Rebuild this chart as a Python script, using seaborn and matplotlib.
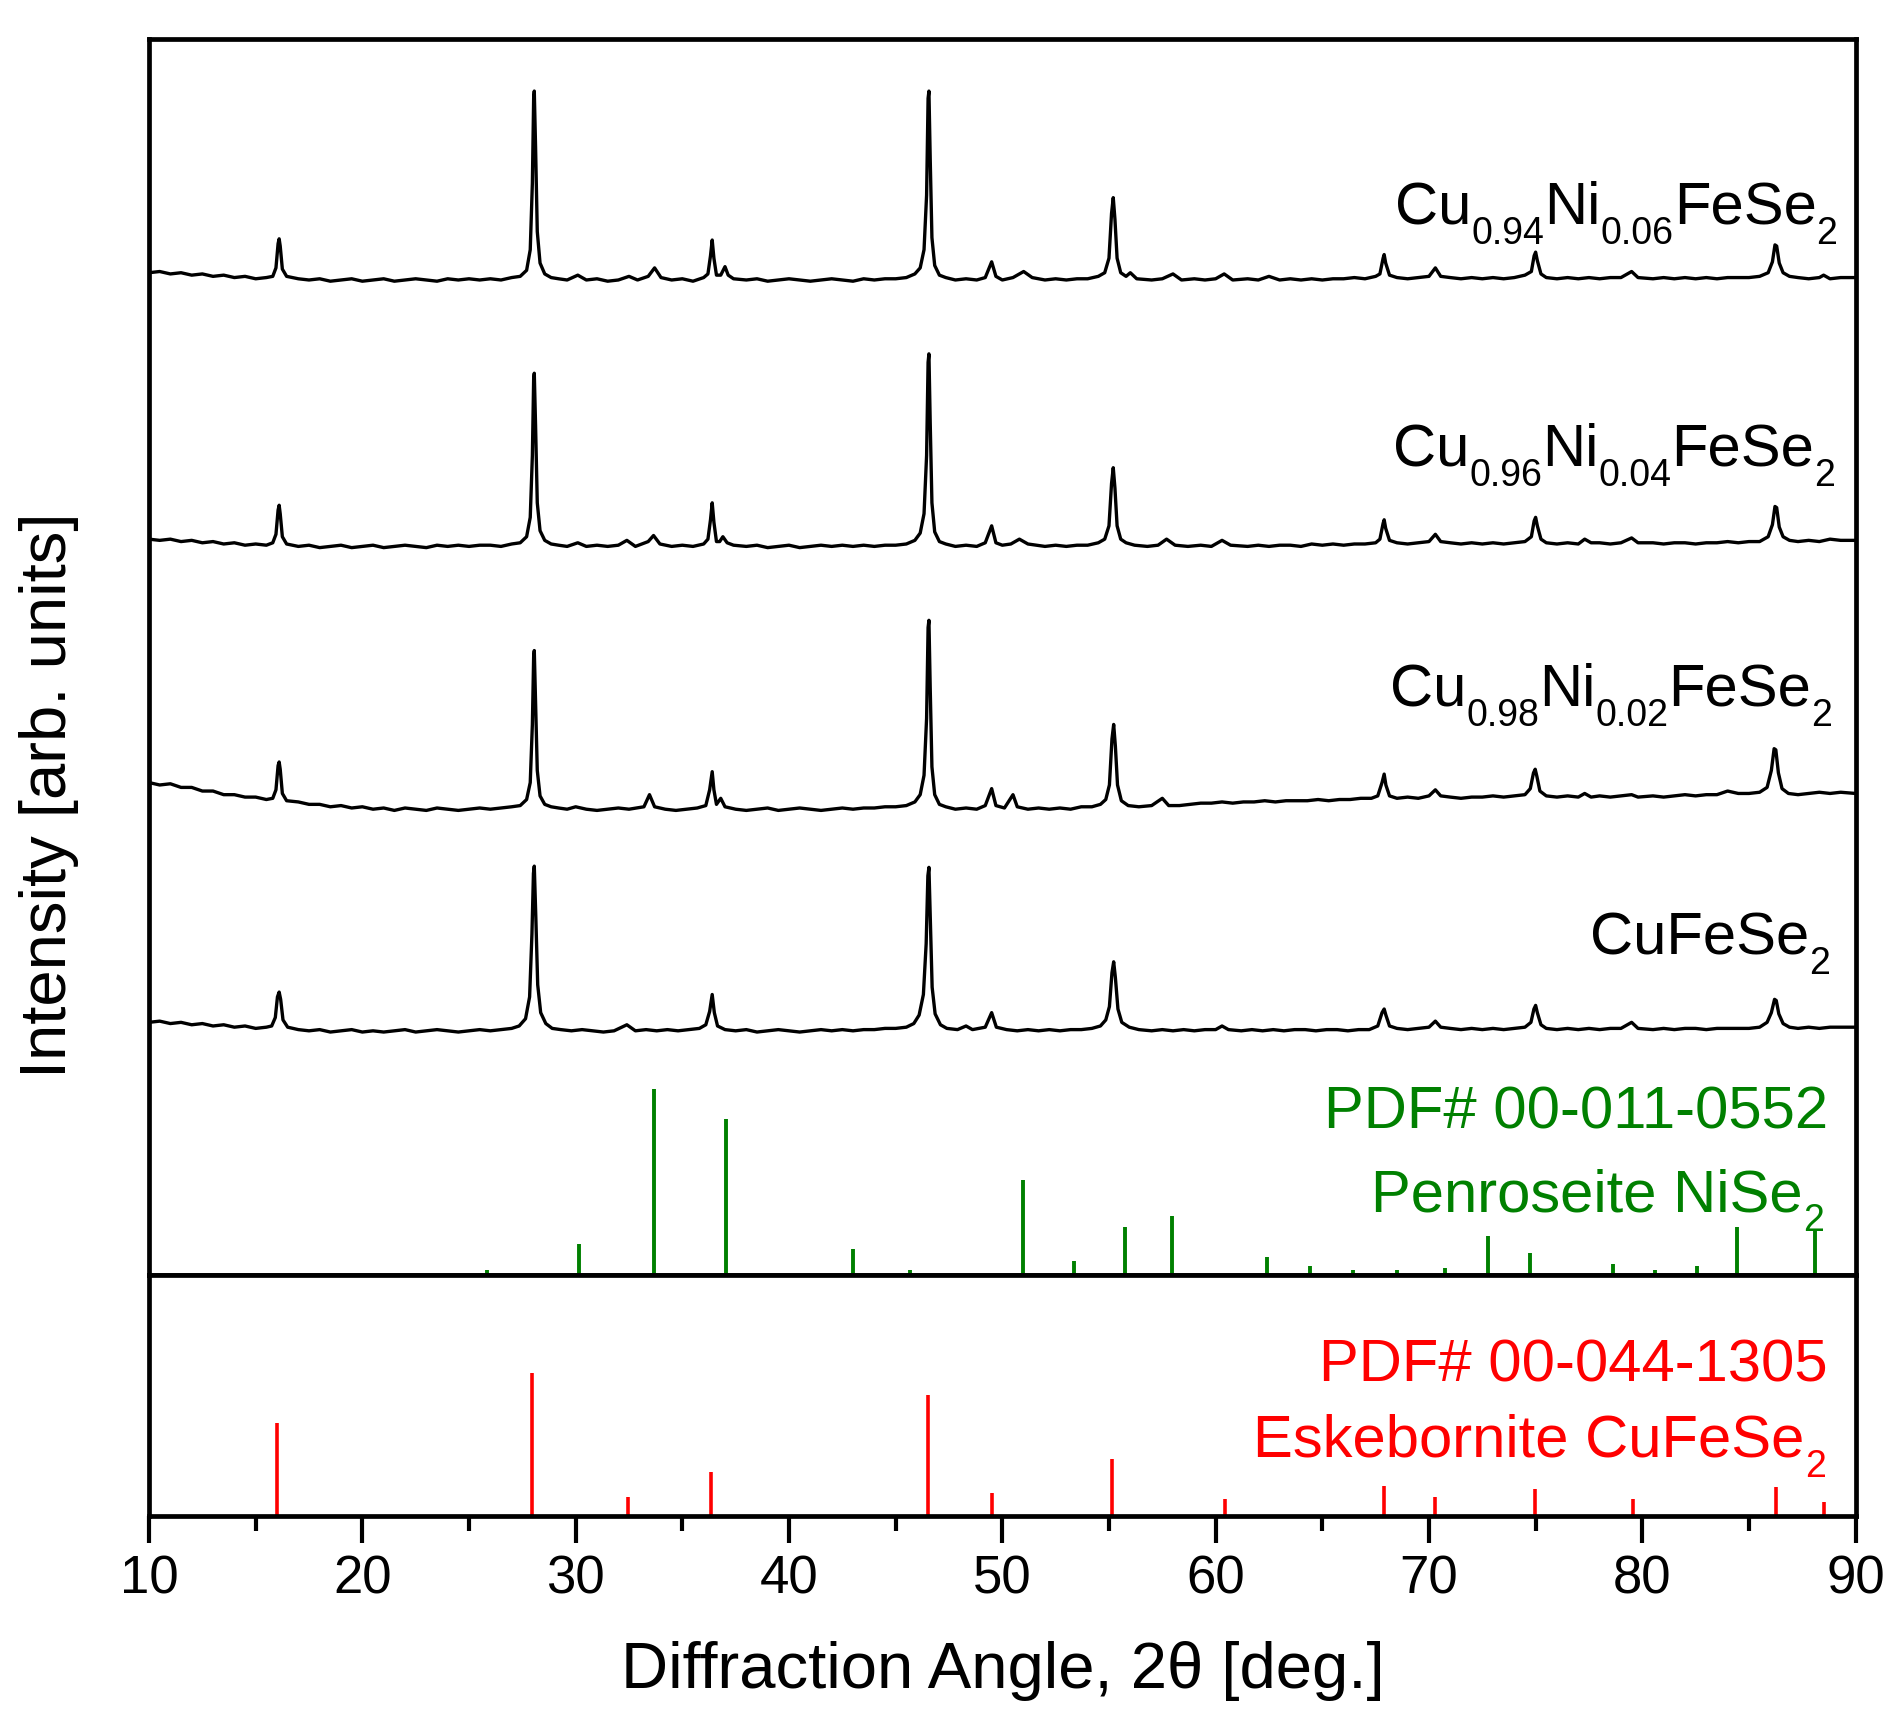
import numpy as np
import pandas as pd
import matplotlib
matplotlib.use("Agg")
import matplotlib.pyplot as plt
from matplotlib.ticker import MultipleLocator
from matplotlib.transforms import offset_copy
import seaborn as sns

# ---------------- measured patterns (2theta [deg], intensity above own baseline) ----------------
x006 = [(10.0, 6), (10.5, 7), (11.0, 5), (11.5, 6), (12.0, 4), (12.5, 5), (13.0, 3), (13.5, 4), (14.0, 2),
        (14.5, 3), (15.0, 1), (15.5, 2), (15.8, 3), (15.95, 10), (16.05, 30), (16.1, 34), (16.15, 28),
        (16.25, 9), (16.45, 3), (17.0, 1), (17.5, 0), (18.0, 1), (18.5, -1), (19.0, 0), (19.5, 1), (20.0, -1),
        (20.5, 0), (21.0, 1), (21.5, -1), (22.0, 0), (22.5, 1), (23.0, 0), (23.5, -1), (24.0, 1), (24.5, 0),
        (25.0, 1), (25.5, 0), (26.0, 1), (26.5, 0), (27.0, 2), (27.4, 3), (27.7, 8), (27.87, 25), (27.97, 80),
        (28.03, 150), (28.06, 156), (28.12, 110), (28.2, 40), (28.33, 14), (28.55, 5), (28.85, 2), (29.2, 1),
        (29.6, 0), (30.1, 4), (30.5, 0), (31.0, 1), (31.5, -1), (32.0, 0), (32.5, 3), (32.9, 0), (33.4, 3),
        (33.7, 10), (34.0, 2), (34.5, 0), (35.0, 1), (35.5, -1), (36.0, 2), (36.2, 5), (36.32, 20), (36.4, 33),
        (36.48, 18), (36.6, 4), (36.8, 4), (37.0, 11), (37.15, 4), (37.4, 1), (38.0, 0), (38.5, 1), (39.0, -1),
        (39.5, 0), (40.0, 1), (40.5, 0), (41.0, -1), (41.5, 0), (42.0, 1), (42.5, 0), (43.0, -1), (43.5, 1),
        (44.0, 0), (44.5, 1), (45.0, 1), (45.5, 2), (45.9, 5), (46.15, 10), (46.33, 25), (46.45, 70),
        (46.52, 150), (46.56, 156), (46.62, 100), (46.7, 35), (46.83, 12), (47.05, 4), (47.35, 2), (47.8, 0),
        (48.3, 1), (48.8, 0), (49.2, 2), (49.5, 15), (49.7, 3), (50.0, 0), (50.5, 2), (51.0, 7), (51.4, 2),
        (52.0, 0), (52.5, 1), (53.0, 0), (53.5, 1), (54.0, 1), (54.5, 3), (54.8, 6), (55.0, 18), (55.12, 55),
        (55.2, 68), (55.28, 50), (55.38, 18), (55.55, 6), (55.8, 3), (56.0, 6), (56.3, 1), (57.0, 0), (57.5, 1),
        (58.0, 5), (58.4, 0), (59.0, 1), (59.5, 0), (60.0, 1), (60.4, 5), (60.8, 0), (61.5, 1), (62.0, 0),
        (62.5, 3), (63.0, 0), (63.5, 1), (64.0, 0), (64.5, 1), (65.0, 0), (65.5, 1), (66.0, 1), (66.5, 2),
        (67.0, 1), (67.5, 3), (67.7, 5), (67.85, 18), (67.9, 21), (67.97, 14), (68.15, 4), (68.5, 2), (69.0, 1),
        (69.5, 2), (70.0, 3), (70.3, 10), (70.55, 3), (71.0, 2), (71.5, 1), (72.0, 2), (72.5, 1), (73.0, 2),
        (73.5, 1), (74.0, 2), (74.5, 4), (74.8, 7), (74.93, 20), (75.0, 23), (75.08, 16), (75.25, 5), (75.5, 2),
        (76.0, 1), (76.5, 2), (77.0, 1), (77.5, 2), (78.0, 1), (78.5, 2), (79.0, 2), (79.5, 7), (79.8, 2),
        (80.5, 1), (81.0, 2), (81.5, 1), (82.0, 2), (82.5, 1), (83.0, 2), (83.5, 1), (84.0, 2), (84.5, 2),
        (85.0, 2), (85.5, 3), (85.9, 6), (86.1, 15), (86.22, 29), (86.3, 28), (86.42, 14), (86.6, 6), (86.9, 3),
        (87.3, 2), (87.8, 1), (88.3, 2), (88.5, 4), (88.8, 1), (89.3, 2), (90.0, 2)]

x004 = [(10.0, 6), (10.5, 5), (11.0, 6), (11.5, 4), (12.0, 5), (12.5, 3), (13.0, 4), (13.5, 2), (14.0, 3),
        (14.5, 1), (15.0, 2), (15.5, 1), (15.8, 3), (15.95, 10), (16.05, 30), (16.1, 34), (16.15, 27),
        (16.25, 8), (16.45, 2), (17.0, 0), (17.5, 1), (18.0, -1), (18.5, 0), (19.0, 1), (19.5, -1), (20.0, 0),
        (20.5, 1), (21.0, -1), (21.5, 0), (22.0, 1), (22.5, 0), (23.0, -1), (23.5, 1), (24.0, 0), (24.5, 1),
        (25.0, 0), (25.5, 1), (26.0, 1), (26.5, 0), (27.0, 2), (27.4, 3), (27.7, 8), (27.87, 24), (27.97, 75),
        (28.03, 138), (28.06, 143), (28.12, 100), (28.2, 36), (28.33, 13), (28.55, 5), (28.85, 2), (29.2, 1),
        (29.6, 0), (30.1, 3), (30.5, 0), (31.0, 1), (31.5, 0), (32.0, 1), (32.4, 5), (32.8, 0), (33.4, 4),
        (33.65, 9), (33.95, 2), (34.5, 0), (35.0, 1), (35.5, 0), (36.0, 2), (36.2, 6), (36.32, 22), (36.4, 36),
        (36.48, 20), (36.6, 4), (36.75, 4), (36.9, 8), (37.1, 3), (37.4, 1), (38.0, 0), (38.5, 1), (39.0, -1),
        (39.5, 0), (40.0, 1), (40.5, -1), (41.0, 0), (41.5, 1), (42.0, 0), (42.5, 1), (43.0, 0), (43.5, 1),
        (44.0, 0), (44.5, 1), (45.0, 1), (45.5, 2), (45.9, 5), (46.15, 11), (46.33, 27), (46.45, 75),
        (46.52, 152), (46.56, 159), (46.62, 102), (46.7, 36), (46.83, 12), (47.05, 4), (47.35, 2), (47.8, 0),
        (48.3, 1), (48.8, 0), (49.2, 3), (49.5, 17), (49.7, 3), (50.0, 1), (50.4, 2), (50.8, 6), (51.2, 2),
        (52.0, 0), (52.5, 1), (53.0, 0), (53.5, 1), (54.0, 1), (54.5, 3), (54.8, 6), (55.0, 17), (55.12, 52),
        (55.2, 65), (55.28, 48), (55.38, 17), (55.55, 6), (55.8, 3), (56.2, 1), (56.8, 0), (57.3, 1), (57.7, 6),
        (58.1, 1), (58.7, 0), (59.3, 1), (59.8, 0), (60.3, 5), (60.7, 1), (61.5, 0), (62.0, 1), (62.5, 0),
        (63.0, 1), (63.5, 1), (64.0, 0), (64.5, 2), (65.0, 1), (65.5, 2), (66.0, 1), (66.5, 2), (67.0, 2),
        (67.5, 3), (67.7, 6), (67.85, 19), (67.9, 22), (67.97, 15), (68.15, 5), (68.5, 3), (69.0, 2), (69.5, 3),
        (70.0, 4), (70.3, 10), (70.55, 4), (71.0, 3), (71.5, 2), (72.0, 3), (72.5, 2), (73.0, 3), (73.5, 2),
        (74.0, 3), (74.5, 4), (74.8, 8), (74.93, 21), (75.0, 24), (75.08, 17), (75.25, 6), (75.5, 3), (76.0, 2),
        (76.5, 3), (77.0, 2), (77.3, 6), (77.6, 3), (78.0, 3), (78.5, 2), (79.0, 3), (79.5, 7), (79.8, 3),
        (80.5, 3), (81.0, 2), (81.5, 3), (82.0, 3), (82.5, 2), (83.0, 3), (83.5, 3), (84.0, 4), (84.5, 3),
        (85.0, 4), (85.5, 4), (85.9, 8), (86.1, 18), (86.22, 33), (86.3, 32), (86.42, 16), (86.6, 8), (86.9, 5),
        (87.3, 4), (87.8, 5), (88.3, 4), (88.8, 6), (89.3, 5), (90.0, 5)]

x002 = [(10.0, 22), (10.5, 20), (11.0, 21), (11.5, 18), (12.0, 18), (12.5, 15), (13.0, 15), (13.5, 12),
        (14.0, 12), (14.5, 10), (15.0, 10), (15.5, 8), (15.8, 9), (15.95, 16), (16.05, 36), (16.1, 39),
        (16.15, 33), (16.25, 13), (16.45, 7), (17.0, 6), (17.5, 4), (18.0, 4), (18.5, 2), (19.0, 3), (19.5, 1),
        (20.0, 2), (20.5, 0), (21.0, 1), (21.5, -1), (22.0, 1), (22.5, 0), (23.0, -1), (23.5, 1), (24.0, 0),
        (24.5, -1), (25.0, 0), (25.5, 1), (26.0, 0), (26.5, 1), (27.0, 2), (27.4, 3), (27.7, 8), (27.87, 22),
        (27.97, 70), (28.03, 126), (28.06, 131), (28.12, 90), (28.2, 32), (28.33, 11), (28.55, 4), (28.85, 2),
        (29.2, 1), (29.6, 0), (30.0, 2), (30.5, 0), (31.0, -1), (31.5, 0), (32.0, 1), (32.5, 0), (33.2, 2),
        (33.46, 12), (33.7, 2), (34.2, 0), (34.7, -1), (35.2, 0), (35.7, 1), (36.1, 3), (36.28, 16), (36.4, 31),
        (36.48, 16), (36.6, 4), (36.8, 9), (37.0, 2), (37.5, 0), (38.0, -1), (38.5, 0), (39.0, 1), (39.5, -1),
        (40.0, 0), (40.5, 1), (41.0, 0), (41.5, -1), (42.0, 0), (42.5, 1), (43.0, 0), (43.5, 1), (44.0, 1),
        (44.5, 2), (45.0, 2), (45.5, 3), (45.9, 6), (46.15, 12), (46.33, 28), (46.45, 75), (46.52, 150),
        (46.56, 156), (46.62, 100), (46.7, 35), (46.83, 12), (47.05, 4), (47.35, 2), (47.8, 0), (48.3, 1),
        (48.8, 0), (49.2, 3), (49.5, 17), (49.7, 3), (50.1, 1), (50.5, 12), (50.7, 2), (51.2, 0), (51.7, 1),
        (52.2, 0), (52.7, 1), (53.2, 0), (53.7, 2), (54.2, 2), (54.6, 4), (54.85, 8), (55.02, 20), (55.14, 58),
        (55.22, 70), (55.3, 52), (55.4, 20), (55.58, 7), (55.9, 3), (56.4, 2), (57.0, 3), (57.5, 9), (57.8, 3),
        (58.3, 3), (58.8, 4), (59.3, 5), (59.8, 5), (60.3, 6), (60.8, 5), (61.3, 6), (61.8, 6), (62.3, 7),
        (62.8, 6), (63.3, 7), (63.8, 7), (64.3, 7), (64.8, 8), (65.3, 7), (65.8, 8), (66.3, 8), (66.8, 9),
        (67.3, 9), (67.6, 11), (67.8, 22), (67.9, 29), (67.98, 20), (68.15, 11), (68.5, 9), (69.0, 10),
        (69.5, 9), (70.0, 11), (70.3, 16), (70.55, 11), (71.0, 10), (71.5, 9), (72.0, 10), (72.5, 10),
        (73.0, 11), (73.5, 10), (74.0, 11), (74.5, 12), (74.75, 17), (74.9, 30), (74.98, 33), (75.06, 27),
        (75.2, 15), (75.5, 11), (76.0, 10), (76.5, 11), (77.0, 10), (77.3, 13), (77.6, 10), (78.0, 11),
        (78.5, 10), (79.0, 11), (79.5, 12), (79.8, 10), (80.5, 11), (81.0, 10), (81.5, 11), (82.0, 12),
        (82.5, 11), (83.0, 12), (83.5, 12), (84.0, 15), (84.5, 13), (85.0, 13), (85.5, 14), (85.85, 18),
        (86.05, 32), (86.18, 50), (86.26, 49), (86.38, 30), (86.55, 17), (86.85, 13), (87.3, 12), (87.8, 13),
        (88.3, 14), (88.8, 13), (89.3, 14), (90.0, 13)]

x000 = [(10.0, 7), (10.5, 8), (11.0, 6), (11.5, 7), (12.0, 5), (12.5, 6), (13.0, 4), (13.5, 5), (14.0, 3),
        (14.5, 4), (15.0, 2), (15.5, 3), (15.75, 4), (15.92, 11), (16.02, 28), (16.1, 32), (16.17, 26),
        (16.28, 9), (16.5, 3), (17.0, 1), (17.5, 0), (18.0, 1), (18.5, -1), (19.0, 0), (19.5, 1), (20.0, -1),
        (20.5, 0), (21.0, -1), (21.5, 0), (22.0, 1), (22.5, -1), (23.0, 0), (23.5, 1), (24.0, 0), (24.5, -1),
        (25.0, 0), (25.5, 1), (26.0, 0), (26.5, 1), (27.0, 2), (27.35, 4), (27.65, 10), (27.84, 28),
        (27.95, 80), (28.02, 130), (28.06, 136), (28.13, 95), (28.22, 38), (28.36, 15), (28.6, 6), (28.9, 2),
        (29.3, 1), (29.8, 0), (30.3, 1), (30.8, 0), (31.3, -1), (31.8, 0), (32.4, 5), (32.8, 0), (33.3, 1),
        (33.8, 0), (34.3, 1), (34.8, 0), (35.3, 1), (35.8, 2), (36.1, 5), (36.28, 16), (36.4, 30), (36.5, 15),
        (36.65, 4), (37.0, 1), (37.5, 0), (38.0, 1), (38.5, -1), (39.0, 0), (39.5, 1), (40.0, 0), (40.5, -1),
        (41.0, 0), (41.5, 1), (42.0, 0), (42.5, 1), (43.0, 0), (43.5, 1), (44.0, 1), (44.5, 2), (45.0, 2),
        (45.5, 3), (45.85, 6), (46.1, 13), (46.3, 30), (46.43, 72), (46.51, 128), (46.56, 135), (46.62, 95),
        (46.71, 36), (46.85, 14), (47.1, 5), (47.4, 2), (47.9, 1), (48.3, 4), (48.6, 1), (49.2, 3), (49.5, 15),
        (49.72, 3), (50.2, 1), (50.7, 0), (51.2, 1), (51.7, 0), (52.2, 1), (52.7, 0), (53.2, 1), (53.7, 1),
        (54.2, 2), (54.6, 4), (54.85, 9), (55.02, 20), (55.14, 48), (55.22, 57), (55.3, 44), (55.42, 18),
        (55.6, 7), (55.95, 3), (56.4, 1), (57.0, 0), (57.5, 1), (58.0, 0), (58.5, 1), (59.0, 0), (59.5, 1),
        (60.0, 1), (60.3, 4), (60.6, 1), (61.2, 0), (61.7, 1), (62.2, 0), (62.7, 1), (63.2, 0), (63.7, 1),
        (64.2, 1), (64.7, 0), (65.2, 1), (65.7, 1), (66.2, 0), (66.7, 1), (67.2, 1), (67.6, 4), (67.8, 15),
        (67.9, 18), (67.98, 13), (68.15, 4), (68.5, 2), (69.0, 1), (69.5, 2), (70.0, 3), (70.3, 8), (70.55, 3),
        (71.0, 2), (71.5, 1), (72.0, 2), (72.5, 1), (73.0, 2), (73.5, 1), (74.0, 2), (74.5, 3), (74.78, 7),
        (74.92, 18), (75.0, 21), (75.08, 15), (75.25, 5), (75.5, 2), (76.0, 1), (76.5, 2), (77.0, 1), (77.5, 2),
        (78.0, 1), (78.5, 2), (79.0, 2), (79.5, 7), (79.8, 2), (80.5, 1), (81.0, 2), (81.5, 1), (82.0, 2),
        (82.5, 2), (83.0, 1), (83.5, 2), (84.0, 2), (84.5, 2), (85.0, 2), (85.5, 3), (85.85, 7), (86.05, 15),
        (86.2, 26), (86.28, 25), (86.4, 14), (86.6, 6), (86.9, 3), (87.3, 2), (87.8, 3), (88.3, 2), (88.8, 3),
        (89.3, 3), (90.0, 3)]

samples = ['x006', 'x004', 'x002', 'x000']
# label pieces: (text, is_subscript)
sample_labels = [
    [('Cu', 0), ('0.94', 1), ('Ni', 0), ('0.06', 1), ('FeSe', 0), ('2', 1)],
    [('Cu', 0), ('0.96', 1), ('Ni', 0), ('0.04', 1), ('FeSe', 0), ('2', 1)],
    [('Cu', 0), ('0.98', 1), ('Ni', 0), ('0.02', 1), ('FeSe', 0), ('2', 1)],
    [('CuFeSe', 0), ('2', 1)],
]

# reference cards (relative intensity, %)
nise2_2theta = [25.85, 30.15, 33.68, 37.03, 43.0, 45.65, 50.95, 53.35, 55.75, 57.95, 62.4, 64.4, 66.45,
                68.5, 70.75, 72.75, 74.75, 78.65, 80.6, 82.55, 84.45, 88.1]
nise2_int = [3, 17, 100, 84, 14, 3, 51, 8, 26, 32, 10, 5, 3, 3, 4, 21, 12, 6, 3, 5, 26, 25]

cufese2_2theta = [16.0, 27.93, 32.45, 36.35, 46.5, 49.5, 55.15, 60.45, 67.9, 70.3, 74.95, 79.55, 86.25, 88.5]
cufese2_int = [65, 100, 13, 31, 85, 16, 40, 12, 21, 13, 19, 12, 20, 10]

# ---------------- style ----------------
sns.set_style('white')
plt.rcParams['font.family'] = ['Liberation Sans', 'DejaVu Sans']
plt.rcParams['text.color'] = 'black'
plt.rcParams['axes.labelcolor'] = 'black'
plt.rcParams['xtick.color'] = 'black'
plt.rcParams['ytick.color'] = 'black'

offsets = {'x006': 822, 'x004': 602, 'x002': 385, 'x000': 202}
label_pos = [(89.15, 869), (89.05, 669), (88.9, 471), (88.8, 266)]
green = '#008000'
red = '#ff0000'
spine_w = 3.4
main_fs, sub_fs, sub_drop = 43, 27, 20  # sub_drop in pixels

frames = []
for name, pts in zip(samples, [x006, x004, x002, x000]):
    df = pd.DataFrame(pts, columns=['two_theta', 'intensity'])
    df['sample'] = name
    df['y'] = df['intensity'] + offsets[name]
    frames.append(df)
xrd = pd.concat(frames, ignore_index=True)

fig = plt.figure(figsize=(18.96, 17.24), dpi=100)
ax_top = fig.add_axes([0.0786, 0.2596, 0.9001, 0.7172])
ax_bot = fig.add_axes([0.0786, 0.1202, 0.9001, 0.1394])
renderer = fig.canvas.get_renderer()


def formula(ax, x, y, pieces, color):
    # right-aligned label built from plain and subscript pieces
    widths = []
    for txt, sub in pieces:
        t = ax.text(0, 0, txt, fontsize=sub_fs if sub else main_fs)
        widths.append(t.get_window_extent(renderer).width)
        t.remove()
    cursor = -sum(widths)
    for (txt, sub), w in zip(pieces, widths):
        tr = offset_copy(ax.transData, fig=fig, x=cursor, y=-sub_drop if sub else 0, units='dots')
        ax.text(x, y, txt, transform=tr, ha='left', va='baseline',
                fontsize=sub_fs if sub else main_fs, color=color)
        cursor += w


sns.lineplot(data=xrd, x='two_theta', y='y', units='sample', estimator=None, sort=False,
             color='black', lw=2.4, ax=ax_top, legend=False)

ax_top.vlines(nise2_2theta, 0, np.array(nise2_int) * 1.54, color=green, lw=2.8)

ax_top.set_xlim(10, 90)
ax_top.set_ylim(0, 1021)
ax_top.set_xlabel('')
ax_top.set_ylabel('')
ax_top.tick_params(bottom=False, left=False, labelbottom=False, labelleft=False)

for pieces, (lx, ly) in zip(sample_labels, label_pos):
    formula(ax_top, lx, ly, pieces, 'black')
formula(ax_top, 88.7, 122, [('PDF# 00-011-0552', 0)], green)
formula(ax_top, 88.5, 54, [('Penroseite NiSe', 0), ('2', 1)], green)

ax_bot.vlines(cufese2_2theta, 0, cufese2_int, color=red, lw=2.6)
ax_bot.set_xlim(10, 90)
ax_bot.set_ylim(0, 168.5)
formula(ax_bot, 88.7, 95, [('PDF# 00-044-1305', 0)], red)
formula(ax_bot, 88.6, 42, [('Eskebornite CuFeSe', 0), ('2', 1)], red)
ax_bot.xaxis.set_major_locator(MultipleLocator(10))
ax_bot.xaxis.set_minor_locator(MultipleLocator(5))
ax_bot.tick_params(axis='x', which='major', direction='out', length=19.5, width=3.0,
                   labelsize=38, pad=8, bottom=True)
ax_bot.tick_params(axis='x', which='minor', direction='out', length=11, width=3.0, bottom=True)
ax_bot.tick_params(axis='y', left=False, labelleft=False)
ax_bot.set_xlabel('Diffraction Angle, 2θ [deg.]', fontsize=47, labelpad=26)

for ax in (ax_top, ax_bot):
    for sp in ax.spines.values():
        sp.set_visible(True)
        sp.set_color('black')
        sp.set_linewidth(spine_w)

fig.text(0.0256, 0.5385, 'Intensity [arb. units]', rotation=90, ha='center', va='center', fontsize=47)

fig.savefig('out.png', dpi=100, facecolor='white')
